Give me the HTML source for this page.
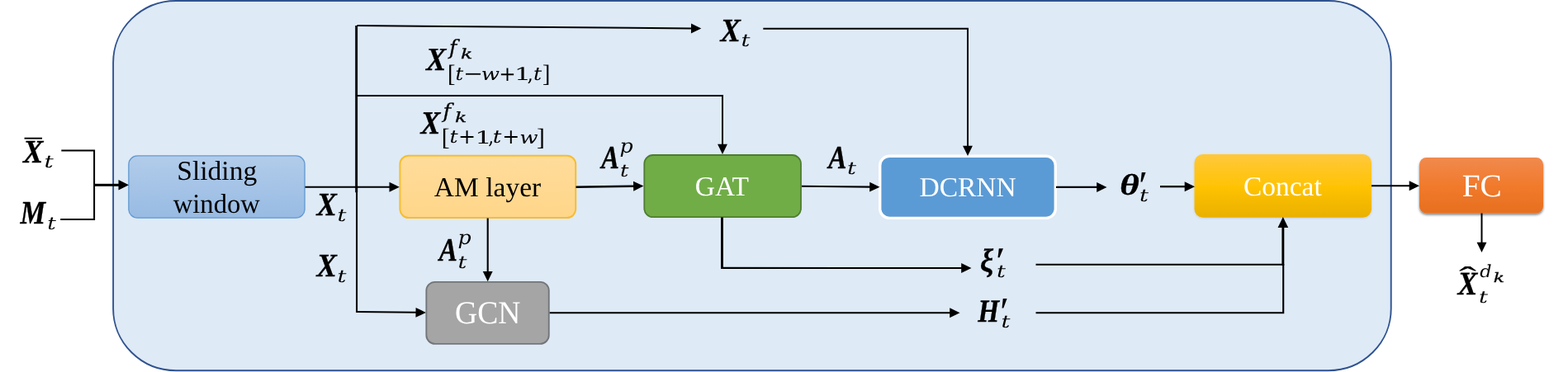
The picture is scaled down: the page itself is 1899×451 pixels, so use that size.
<!DOCTYPE html>
<html lang="en">
<head>
<meta charset="utf-8">
<title>Model architecture diagram</title>
<style>
html,body{margin:0;padding:0;background:#fff;}
body{width:1899px;height:451px;overflow:hidden;}
svg{display:block;will-change:transform;}
svg text{font-family:"Liberation Serif","DejaVu Serif",serif;font-kerning:none;white-space:pre;text-rendering:geometricPrecision;}
</style>
</head>
<body>
<svg width="1899" height="451" viewBox="0 0 1899 451">
<defs>
<linearGradient id="gS" x1="0" y1="0" x2="0" y2="1"><stop offset="0" stop-color="#B2CCEA"/><stop offset="1" stop-color="#98BBE3"/></linearGradient>
<linearGradient id="gA" x1="0" y1="0" x2="0" y2="1"><stop offset="0" stop-color="#FFDC9B"/><stop offset="1" stop-color="#FFD689"/></linearGradient>
<linearGradient id="gC" x1="0" y1="0" x2="0" y2="1"><stop offset="0" stop-color="#FFC83C"/><stop offset="0.5" stop-color="#FFC305"/><stop offset="1" stop-color="#E9B004"/></linearGradient>
<linearGradient id="gF" x1="0" y1="0" x2="0" y2="1"><stop offset="0" stop-color="#F08A4E"/><stop offset="0.5" stop-color="#F17A2C"/><stop offset="1" stop-color="#E66F20"/></linearGradient>
<filter id="sh" x="-10%" y="-20%" width="120%" height="150%"><feGaussianBlur in="SourceAlpha" stdDeviation="1.8"/><feOffset dx="0" dy="2.2"/><feComponentTransfer><feFuncA type="linear" slope="0.5"/></feComponentTransfer><feMerge><feMergeNode/><feMergeNode in="SourceGraphic"/></feMerge></filter>
<filter id="sh2" x="-10%" y="-20%" width="120%" height="150%"><feGaussianBlur in="SourceAlpha" stdDeviation="1.5"/><feOffset dx="0" dy="1"/><feComponentTransfer><feFuncA type="linear" slope="0.12"/></feComponentTransfer><feMerge><feMergeNode/><feMergeNode in="SourceGraphic"/></feMerge></filter>
</defs>
<g id="panel">
<rect x="137.1" y="0.95" width="1547.6" height="448.25" rx="76" ry="75" fill="#DEEAF6" stroke="#2F528F" stroke-width="1.9"/>
</g>
<g id="boxes">
<rect x="155.85" y="188.95" width="213.20" height="75.20" rx="10.50" ry="10.50" fill="url(#gS)" stroke="#6199D1" stroke-width="1.30" />
<rect x="484.40" y="188.70" width="212.80" height="75.30" rx="10.50" ry="10.50" fill="url(#gA)" stroke="#F7BD30" stroke-width="2.00" />
<rect x="780.30" y="188.00" width="189.70" height="75.10" rx="10.50" ry="10.50" fill="#70AD47" stroke="#4F7D31" stroke-width="1.80" />
<rect x="1065.70" y="189.30" width="212.60" height="75.10" rx="11.50" ry="11.50" fill="#5B9BD5" stroke="#FFFFFF" stroke-width="3.40" />
<rect x="1446.50" y="187.00" width="214.60" height="76.80" rx="10.50" ry="10.50" fill="url(#gC)" filter="url(#sh2)"/>
<rect x="1719.00" y="191.00" width="150.00" height="67.40" rx="8.50" ry="8.50" fill="url(#gF)" filter="url(#sh)"/>
<rect x="516.35" y="341.85" width="148.40" height="75.00" rx="10.50" ry="10.50" fill="#A5A5A5" stroke="#72767A" stroke-width="1.90" />
</g>
<g id="connectors">
<polyline points="74.30,182.50 114.10,182.50 114.10,266.10 73.20,266.10" fill="none" stroke="#000" stroke-width="2.00" stroke-linejoin="miter"/>
<polyline points="114.10,224.30 144.50,224.30" fill="none" stroke="#000" stroke-width="3.00" stroke-linejoin="miter"/><polygon points="156.00,224.30 143.50,230.60 143.50,218.00" fill="#000"/>
<polyline points="369.50,226.70 472.50,226.70" fill="none" stroke="#000" stroke-width="1.90" stroke-linejoin="miter"/><polygon points="483.80,226.70 471.50,232.65 471.50,220.75" fill="#000"/>
<polyline points="431.65,31.00 431.65,233.30" fill="none" stroke="#000" stroke-width="2.90" stroke-linejoin="miter"/>
<polyline points="432.05,226.00 432.05,378.90" fill="none" stroke="#000" stroke-width="2.10" stroke-linejoin="miter"/>
<polyline points="432.50,31.00 838.00,34.50" fill="none" stroke="#000" stroke-width="2.00" stroke-linejoin="miter"/><polygon points="849.30,34.60 836.95,40.44 837.05,28.54" fill="#000"/>
<polyline points="924.30,34.75 1172.00,34.75 1172.00,177.70" fill="none" stroke="#000" stroke-width="2.00" stroke-linejoin="miter"/><polygon points="1172.00,189.00 1166.05,176.70 1177.95,176.70" fill="#000"/>
<polyline points="431.80,116.00 875.00,116.00 875.00,175.80" fill="none" stroke="#000" stroke-width="2.00" stroke-linejoin="miter"/><polygon points="875.00,187.10 869.05,174.80 880.95,174.80" fill="#000"/>
<polyline points="697.50,226.80 768.10,225.68" fill="none" stroke="#000" stroke-width="2.40" stroke-linejoin="miter"/><polygon points="779.40,225.50 767.20,231.64 767.01,219.75" fill="#000"/>
<polyline points="971.00,225.80 1054.20,226.59" fill="none" stroke="#000" stroke-width="2.10" stroke-linejoin="miter"/><polygon points="1065.50,226.70 1053.14,232.53 1053.26,220.63" fill="#000"/>
<polyline points="1279.00,226.80 1329.20,226.96" fill="none" stroke="#000" stroke-width="2.30" stroke-linejoin="miter"/><polygon points="1340.50,227.00 1328.18,232.91 1328.22,221.01" fill="#000"/>
<polyline points="1405.00,226.20 1435.70,226.20" fill="none" stroke="#000" stroke-width="2.30" stroke-linejoin="miter"/><polygon points="1447.00,226.20 1434.70,232.15 1434.70,220.25" fill="#000"/>
<polyline points="1661.00,225.30 1707.70,225.30" fill="none" stroke="#000" stroke-width="1.90" stroke-linejoin="miter"/><polygon points="1719.00,225.30 1706.70,231.25 1706.70,219.35" fill="#000"/>
<polyline points="1794.50,258.50 1794.50,294.70" fill="none" stroke="#000" stroke-width="2.00" stroke-linejoin="miter"/><polygon points="1794.50,306.00 1788.55,293.70 1800.45,293.70" fill="#000"/>
<polyline points="590.70,264.50 590.70,330.00" fill="none" stroke="#000" stroke-width="2.10" stroke-linejoin="miter"/><polygon points="590.70,341.30 584.75,329.00 596.65,329.00" fill="#000"/>
<polyline points="432.00,377.90 504.50,378.85" fill="none" stroke="#000" stroke-width="2.00" stroke-linejoin="miter"/><polygon points="515.80,379.00 503.42,384.79 503.58,372.89" fill="#000"/>
<polyline points="665.70,379.20 1151.20,379.20" fill="none" stroke="#000" stroke-width="2.10" stroke-linejoin="miter"/><polygon points="1162.50,379.20 1150.20,385.15 1150.20,373.25" fill="#000"/>
<polyline points="874.45,263.50 874.45,325.90" fill="none" stroke="#000" stroke-width="2.90" stroke-linejoin="miter"/>
<polyline points="874.50,324.90 1165.20,325.00" fill="none" stroke="#000" stroke-width="2.10" stroke-linejoin="miter"/><polygon points="1176.50,325.00 1164.20,330.95 1164.20,319.05" fill="#000"/>
<polyline points="1254.50,320.75 1554.00,320.75" fill="none" stroke="#000" stroke-width="2.10" stroke-linejoin="miter"/>
<polyline points="1254.50,379.30 1554.20,379.30 1554.20,320.00" fill="none" stroke="#000" stroke-width="2.10" stroke-linejoin="miter"/>
<polyline points="1553.85,321.80 1553.85,274.90" fill="none" stroke="#000" stroke-width="2.90" stroke-linejoin="miter"/><polygon points="1553.85,263.00 1560.15,275.90 1547.55,275.90" fill="#000"/>
</g>
<g id="labels">
<text transform="matrix(1.0151 0 0 1 214.25 218.20)" font-size="33.10" style="" fill="#000">Sliding</text>
<text transform="matrix(0.9852 0 0 1 209.77 258.00)" font-size="33.10" style="" fill="#000">window</text>
<text transform="matrix(1.0092 0 0 1 525.87 238.10)" font-size="33.20" style="" fill="#000">AM layer</text>
<text transform="matrix(1.0074 0 0 1 841.83 236.90)" font-size="33.20" style="font-kerning:normal" fill="#fff">GAT</text>
<text transform="matrix(1.0036 0 0 1 1113.43 238.40)" font-size="33.40" style="" fill="#fff">DCRNN</text>
<text transform="matrix(1.0067 0 0 1 1506.03 236.80)" font-size="33.20" style="" fill="#fff">Concat</text>
<text transform="matrix(1.0162 0 0 1 1770.67 238.00)" font-size="38.70" style="" fill="#fff">FC</text>
<text transform="matrix(0.9643 0 0 1 551.06 391.70)" font-size="39.00" style="" fill="#fff">GCN</text>
</g>
<g id="math">
<text transform="matrix(0.9185 0 0 1 27.93 197.00)" font-size="39.71" style="font-weight:bold;font-style:italic;stroke:#000;stroke-width:0.35px;stroke-linejoin:round" fill="#000">X</text>
<text transform="matrix(1.0044 0 0 1 26.72 198.25)" font-size="41.40" style="font-weight:bold;font-style:italic" fill="#000">¯</text>
<text transform="matrix(1.3460 0 0 1 53.46 203.20)" font-size="20.88" style="font-family:'DejaVu Serif',serif;font-style:italic" fill="#000">t</text>
<text transform="matrix(0.8664 0 0 1 24.45 271.00)" font-size="39.71" style="font-weight:bold;font-style:italic;stroke:#000;stroke-width:0.35px;stroke-linejoin:round" fill="#000">M</text>
<text transform="matrix(1.2380 0 0 1 57.36 277.70)" font-size="21.32" style="font-family:'DejaVu Serif',serif;font-style:italic" fill="#000">t</text>
<text transform="matrix(0.9185 0 0 1 383.43 260.50)" font-size="39.71" style="font-weight:bold;font-style:italic;stroke:#000;stroke-width:0.35px;stroke-linejoin:round" fill="#000">X</text>
<text transform="matrix(1.3048 0 0 1 408.51 267.70)" font-size="20.88" style="font-family:'DejaVu Serif',serif;font-style:italic" fill="#000">t</text>
<text transform="matrix(0.9185 0 0 1 383.43 335.00)" font-size="39.71" style="font-weight:bold;font-style:italic;stroke:#000;stroke-width:0.35px;stroke-linejoin:round" fill="#000">X</text>
<text transform="matrix(1.3048 0 0 1 408.51 341.70)" font-size="20.88" style="font-family:'DejaVu Serif',serif;font-style:italic" fill="#000">t</text>
<text transform="matrix(0.9256 0 0 1 515.93 85.30)" font-size="39.40" style="font-weight:bold;font-style:italic;stroke:#000;stroke-width:0.35px;stroke-linejoin:round" fill="#000">X</text>
<text transform="matrix(1.0088 0 0 1 544.04 66.34)" font-size="24.80" style="font-family:'DejaVu Serif',serif;font-style:italic;stroke:#000;stroke-width:0.3px" fill="#000">f</text>
<text transform="matrix(1.4150 0 0 1 558.02 70.70)" font-size="16.72" style="font-family:'DejaVu Serif',serif;font-style:italic;stroke:#000;stroke-width:0.3px" fill="#000">k</text>
<g>
<text transform="matrix(0.9558 0 0 1 541.90 99.04)" font-size="29.60" style="" fill="#000">[</text>
<text transform="matrix(1.0934 0 0 1 551.58 96.89)" font-size="22.04" style="font-family:'DejaVu Serif',serif;font-style:italic" fill="#000">t</text>
<text transform="matrix(1.2502 0 0 1 560.95 97.00)" font-size="23.00" style="font-family:'DejaVu Serif',serif;" fill="#000">−</text>
<text transform="matrix(1.2404 0 0 1 582.74 97.20)" font-size="21.00" style="font-family:'DejaVu Serif',serif;font-style:italic" fill="#000">w</text>
<text transform="matrix(0.9823 0 0 1 604.31 97.60)" font-size="24.88" style="font-family:'DejaVu Serif',serif;" fill="#000">+</text>
<text transform="matrix(1.5247 0 0 1 622.86 97.10)" font-size="21.15" style="font-family:'DejaVu Serif',serif;" fill="#000">1</text>
<text transform="matrix(0.9411 0 0 1 638.46 97.94)" font-size="24.69" style="font-family:'DejaVu Serif',serif;" fill="#000">,</text>
<text transform="matrix(1.1455 0 0 1 645.92 96.89)" font-size="22.04" style="font-family:'DejaVu Serif',serif;font-style:italic" fill="#000">t</text>
<text transform="matrix(0.9558 0 0 1 656.98 99.04)" font-size="29.60" style="" fill="#000">]</text>
</g>
<text transform="matrix(0.9113 0 0 1 509.41 161.70)" font-size="39.25" style="font-weight:bold;font-style:italic;stroke:#000;stroke-width:0.35px;stroke-linejoin:round" fill="#000">X</text>
<text transform="matrix(1.0568 0 0 1 536.59 142.61)" font-size="24.49" style="font-family:'DejaVu Serif',serif;font-style:italic;stroke:#000;stroke-width:0.3px" fill="#000">f</text>
<text transform="matrix(1.3931 0 0 1 551.02 147.50)" font-size="16.98" style="font-family:'DejaVu Serif',serif;font-style:italic;stroke:#000;stroke-width:0.3px" fill="#000">k</text>
<g>
<text transform="matrix(1.0096 0 0 1 534.80 175.57)" font-size="29.36" style="" fill="#000">[</text>
<text transform="matrix(1.1684 0 0 1 544.52 173.29)" font-size="21.60" style="font-family:'DejaVu Serif',serif;font-style:italic" fill="#000">t</text>
<text transform="matrix(1.0016 0 0 1 555.03 174.00)" font-size="25.20" style="font-family:'DejaVu Serif',serif;" fill="#000">+</text>
<text transform="matrix(1.5403 0 0 1 575.00 173.60)" font-size="21.29" style="font-family:'DejaVu Serif',serif;" fill="#000">1</text>
<text transform="matrix(0.8344 0 0 1 591.22 174.17)" font-size="25.90" style="font-family:'DejaVu Serif',serif;" fill="#000">,</text>
<text transform="matrix(1.2215 0 0 1 596.76 173.29)" font-size="21.60" style="font-family:'DejaVu Serif',serif;font-style:italic" fill="#000">t</text>
<text transform="matrix(1.0016 0 0 1 608.13 174.00)" font-size="25.20" style="font-family:'DejaVu Serif',serif;" fill="#000">+</text>
<text transform="matrix(1.2404 0 0 1 629.24 173.60)" font-size="21.00" style="font-family:'DejaVu Serif',serif;font-style:italic" fill="#000">w</text>
<text transform="matrix(1.0096 0 0 1 649.93 175.57)" font-size="29.36" style="" fill="#000">]</text>
</g>
<text transform="matrix(0.9185 0 0 1 872.43 50.00)" font-size="39.71" style="font-weight:bold;font-style:italic;stroke:#000;stroke-width:0.35px;stroke-linejoin:round" fill="#000">X</text>
<text transform="matrix(1.3048 0 0 1 897.51 55.70)" font-size="20.88" style="font-family:'DejaVu Serif',serif;font-style:italic" fill="#000">t</text>
<text transform="matrix(0.8242 0 0 1 728.18 204.00)" font-size="39.38" style="font-weight:bold;font-style:italic;stroke:#000;stroke-width:0.35px;stroke-linejoin:round" fill="#000">A</text>
<text transform="matrix(1.0704 0 0 1 750.41 184.59)" font-size="23.61" style="font-family:'DejaVu Serif',serif;font-style:italic" fill="#000">p</text>
<text transform="matrix(1.2277 0 0 1 751.09 213.90)" font-size="21.03" style="font-family:'DejaVu Serif',serif;font-style:italic" fill="#000">t</text>
<text transform="matrix(0.8429 0 0 1 531.72 315.50)" font-size="39.38" style="font-weight:bold;font-style:italic;stroke:#000;stroke-width:0.35px;stroke-linejoin:round" fill="#000">A</text>
<text transform="matrix(1.0704 0 0 1 554.41 296.09)" font-size="23.61" style="font-family:'DejaVu Serif',serif;font-style:italic" fill="#000">p</text>
<text transform="matrix(1.3048 0 0 1 554.51 324.70)" font-size="20.88" style="font-family:'DejaVu Serif',serif;font-style:italic" fill="#000">t</text>
<text transform="matrix(0.8429 0 0 1 1003.22 204.00)" font-size="39.38" style="font-weight:bold;font-style:italic;stroke:#000;stroke-width:0.35px;stroke-linejoin:round" fill="#000">A</text>
<text transform="matrix(1.3048 0 0 1 1026.01 210.70)" font-size="20.88" style="font-family:'DejaVu Serif',serif;font-style:italic" fill="#000">t</text>
<text transform="matrix(1.2587 0 0 1 1356.30 235.65)" font-size="35.97" style="font-weight:bold;font-style:italic;stroke:#000;stroke-width:0.35px;stroke-linejoin:round" fill="#000">θ</text>
<text transform="matrix(1.0201 0 0 1 1375.96 241.06)" font-size="48.96" style="font-style:italic" fill="#000">′</text>
<text transform="matrix(1.3048 0 0 1 1380.01 243.70)" font-size="20.88" style="font-family:'DejaVu Serif',serif;font-style:italic" fill="#000">t</text>
<text transform="matrix(0.9096 0 0 1 1186.94 329.29)" font-size="39.78" style="font-weight:bold;font-style:italic;stroke:#000;stroke-width:0.35px;stroke-linejoin:round" fill="#000">ξ</text>
<text transform="matrix(1.1554 0 0 1 1202.50 332.17)" font-size="46.84" style="font-style:italic" fill="#000">′</text>
<text transform="matrix(1.3048 0 0 1 1207.01 335.70)" font-size="20.88" style="font-family:'DejaVu Serif',serif;font-style:italic" fill="#000">t</text>
<text transform="matrix(0.8554 0 0 1 1184.24 389.50)" font-size="38.94" style="font-weight:bold;font-style:italic;stroke:#000;stroke-width:0.35px;stroke-linejoin:round" fill="#000">H</text>
<text transform="matrix(1.0201 0 0 1 1207.96 393.56)" font-size="48.96" style="font-style:italic" fill="#000">′</text>
<text transform="matrix(1.3048 0 0 1 1212.51 396.70)" font-size="20.88" style="font-family:'DejaVu Serif',serif;font-style:italic" fill="#000">t</text>
<text transform="matrix(0.8940 0 0 1 1765.41 356.50)" font-size="40.01" style="font-weight:bold;font-style:italic;stroke:#000;stroke-width:0.35px;stroke-linejoin:round" fill="#000">X</text>
<text transform="matrix(1.7202 0 0 1 1766.73 349.48)" font-size="37.48" style="" fill="#000">ˆ</text>
<text transform="matrix(1.0831 0 0 1 1792.36 335.51)" font-size="20.67" style="font-family:'DejaVu Serif',serif;font-style:italic" fill="#000">d</text>
<text transform="matrix(1.3853 0 0 1 1808.79 342.00)" font-size="15.79" style="font-family:'DejaVu Serif',serif;font-style:italic;stroke:#000;stroke-width:0.3px" fill="#000">k</text>
<text transform="matrix(1.3514 0 0 1 1791.01 367.21)" font-size="20.16" style="font-family:'DejaVu Serif',serif;font-style:italic" fill="#000">t</text>
</g>
</svg>
</body>
</html>
